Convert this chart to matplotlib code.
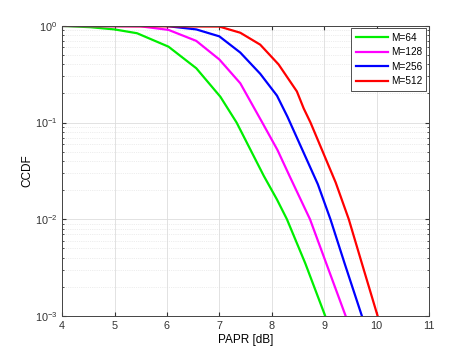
import numpy as np
import matplotlib
matplotlib.use("Agg")
import matplotlib.pyplot as plt

plt.rcParams["font.family"] = ["Liberation Sans", "DejaVu Sans"]
plt.rcParams["mathtext.fontset"] = "custom"
plt.rcParams["mathtext.rm"] = "Liberation Sans"

# values (PAPR in dB, CCDF)
papr_64 = [4.0, 4.54, 5.0, 5.43, 6.03, 6.56, 7.02, 7.33, 7.85, 8.10, 8.29, 8.64, 9.02]
ccdf_64 = [1.0, 0.97, 0.92, 0.84, 0.61, 0.365, 0.185, 0.1, 0.028, 0.016, 0.01, 0.0035, 0.001]

papr_128 = [4.0, 5.5, 6.03, 6.56, 7.0, 7.4, 7.82, 8.11, 8.34, 8.73, 9.04, 9.41]
ccdf_128 = [1.0, 0.99, 0.91, 0.70, 0.45, 0.255, 0.1, 0.052, 0.028, 0.01, 0.0035, 0.001]

papr_256 = [4.0, 5.97, 6.56, 7.0, 7.4, 7.78, 8.10, 8.30, 8.88, 9.12, 9.39, 9.72]
ccdf_256 = [1.0, 1.0, 0.92, 0.78, 0.53, 0.32, 0.19, 0.115, 0.023, 0.01, 0.0035, 0.001]

papr_512 = [4.0, 7.0, 7.4, 7.78, 8.13, 8.48, 8.61, 8.74, 9.22, 9.47, 9.72, 10.02]
ccdf_512 = [1.0, 0.985, 0.85, 0.64, 0.40, 0.21, 0.14, 0.1, 0.024, 0.01, 0.0035, 0.001]

series = [("M=64", papr_64, ccdf_64, "#00ee00"),
          ("M=128", papr_128, ccdf_128, "#ff00ff"),
          ("M=256", papr_256, ccdf_256, "#0000ff"),
          ("M=512", papr_512, ccdf_512, "#ff0000")]

fig = plt.figure(figsize=(4.74, 3.55), dpi=100)
ax = fig.add_axes([0.131, 0.110, 0.774, 0.817])

for name, x, y, c in series:
    ax.semilogy(x, y, color=c, lw=1.6, label=name)

ax.set_xlim(4, 11)
ax.set_ylim(1e-3, 1)
ax.set_xticks(range(4, 12))
ax.grid(True, which="major", color="#dddddd", lw=0.6, ls="-")
ax.grid(True, which="minor", color="#dddddd", lw=0.5, ls=":")
ax.tick_params(which="both", direction="in", top=True, right=True,
               labelsize=7.8, colors="#333333", length=3)
ax.tick_params(which="minor", length=1.5)
for s in ax.spines.values():
    s.set_color("#444444")
    s.set_linewidth(0.7)

ax.set_xlabel("PAPR [dB]", fontsize=8.5, labelpad=2)
ax.set_ylabel("CCDF", fontsize=8.5, labelpad=1)

leg = ax.legend(loc="upper right", fontsize=7.2, handlelength=3.2,
                handletextpad=0.3, borderpad=0.45, labelspacing=0.45,
                fancybox=False, framealpha=1, edgecolor="#333333",
                borderaxespad=0.25)
leg.get_frame().set_linewidth(0.6)

fig.savefig("out.png", dpi=100)
